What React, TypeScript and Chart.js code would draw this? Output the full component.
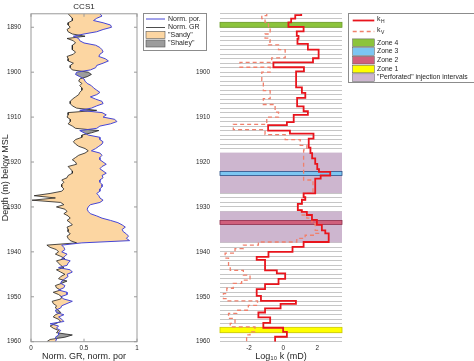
import { useEffect, useRef } from 'react';
import { Chart, registerables } from 'chart.js';
Chart.register(...registerables);

const FONT = '"Liberation Sans", Arial, Helvetica, sans-serif';
const TEXT = '#262626';

// ---------- depth axis ----------
const DEPTH_MIN = 1887;
const DEPTH_MAX = 1960;
const depthTicks = [1890, 1900, 1910, 1920, 1930, 1940, 1950, 1960];
const rightDepthLabels = [1900, 1910, 1920, 1930, 1940, 1950, 1960];

// ---------- left panel: well log (sampled every 0.5 m from 1887 m) ----------
const LOG_START = 1887;
const LOG_STEP = 0.5;
const normGR = [
  0.35, 0.37, 0.39, 0.39, 0.35, 0.35, 0.37, 0.34, 0.35, 0.39,
  0.51, 0.34, 0.40, 0.42, 0.39, 0.39, 0.39, 0.42, 0.40, 0.34,
  0.35, 0.35, 0.40, 0.37, 0.37, 0.39, 0.54, 0.57, 0.53, 0.46,
  0.45, 0.48, 0.46, 0.48, 0.48, 0.46, 0.45, 0.42, 0.39, 0.37,
  0.37, 0.39, 0.43, 0.62, 0.35, 0.35, 0.34, 0.37, 0.37, 0.35,
  0.39, 0.42, 0.64, 0.57, 0.48, 0.48, 0.42, 0.40, 0.42, 0.45,
  0.51, 0.54, 0.51, 0.45, 0.42, 0.39, 0.42, 0.43, 0.35, 0.37,
  0.39, 0.39, 0.35, 0.34, 0.29, 0.31, 0.29, 0.29, 0.31, 0.29,
  0.18, 0.03, 0.23, 0.01, 0.28, 0.31, 0.24, 0.32, 0.34, 0.31,
  0.35, 0.37, 0.34, 0.37, 0.39, 0.34, 0.35, 0.35, 0.37, 0.34,
  0.35, 0.37, 0.43, 0.15, 0.18, 0.24, 0.26, 0.23, 0.28, 0.32,
  0.24, 0.26, 0.28, 0.31, 0.24, 0.28, 0.32, 0.28, 0.26, 0.34,
  0.29, 0.23, 0.24, 0.28, 0.21, 0.26, 0.29, 0.28, 0.20, 0.21,
  0.24, 0.23, 0.26, 0.28, 0.23, 0.21, 0.26, 0.28, 0.23, 0.18,
  0.21, 0.26, 0.24, 0.39, 0.32, 0.18, 0.15,
];
const normPor = [
  0.65, 0.67, 0.62, 0.59, 0.68, 0.75, 0.76, 0.68, 0.62, 0.50,
  0.40, 0.45, 0.46, 0.50, 0.61, 0.65, 0.67, 0.68, 0.65, 0.64,
  0.70, 0.73, 0.68, 0.62, 0.61, 0.56, 0.43, 0.42, 0.46, 0.50,
  0.51, 0.53, 0.57, 0.59, 0.62, 0.65, 0.62, 0.56, 0.61, 0.67,
  0.68, 0.62, 0.57, 0.46, 0.67, 0.71, 0.68, 0.79, 0.81, 0.75,
  0.65, 0.62, 0.46, 0.50, 0.54, 0.65, 0.65, 0.68, 0.67, 0.64,
  0.61, 0.57, 0.65, 0.67, 0.65, 0.65, 0.68, 0.71, 0.67, 0.65,
  0.68, 0.71, 0.67, 0.68, 0.65, 0.65, 0.67, 0.67, 0.65, 0.65,
  0.62, 0.64, 0.65, 0.68, 0.65, 0.56, 0.54, 0.53, 0.54, 0.56,
  0.62, 0.67, 0.75, 0.82, 0.86, 0.89, 0.86, 0.87, 0.90, 0.92,
  0.90, 0.93, 0.48, 0.29, 0.31, 0.32, 0.29, 0.34, 0.32, 0.29,
  0.37, 0.35, 0.34, 0.26, 0.37, 0.39, 0.34, 0.35, 0.32, 0.29,
  0.28, 0.32, 0.31, 0.26, 0.34, 0.34, 0.28, 0.31, 0.39, 0.34,
  0.29, 0.28, 0.23, 0.24, 0.31, 0.26, 0.29, 0.31, 0.18, 0.26,
  0.24, 0.28, 0.26, 0.26, 0.23, 0.24, 0.23,
];
const leftXTicks = [0, 0.5, 1];

// ---------- right panel: permeability layers ----------
const kHTop = [
  1887.0, 1887.3, 1888.1, 1888.9, 1889.9, 1890.9, 1891.9, 1892.6, 1893.7, 1895.0,
  1896.9, 1897.8, 1898.9, 1899.8, 1903.4, 1904.6, 1905.7, 1907.6, 1908.7, 1909.5,
  1911.1, 1911.8, 1913.0, 1913.7, 1914.8, 1916.8, 1918.0, 1919.2, 1920.4, 1921.6,
  1922.2, 1923.0, 1923.7, 1927.0, 1927.8, 1928.4, 1929.3, 1930.7, 1931.1, 1931.8,
  1932.9, 1934.0, 1935.2, 1935.9, 1937.8, 1938.9, 1940.0, 1941.1, 1941.8, 1944.1,
  1944.8, 1946.0, 1947.2, 1948.3, 1949.8, 1950.9, 1951.6, 1952.6, 1953.5, 1954.6,
  1955.8, 1956.9, 1957.8, 1958.9,
];
const kH = [
  1.06, 0.71, 0.47, 0.31, 1.20, 0.80, 0.90, 0.84, 1.45, 2.08,
  1.75, -0.57, 1.22, 0.76, 1.10, 1.30, 0.82, 1.20, 1.45, 0.62,
  0.22, -0.88, 0.40, 1.78, 1.50, 1.60, 1.70, 1.88, 2.00, 2.10,
  2.76, 2.20, 1.88, 1.20, 1.30, 1.10, 0.86, 1.10, 1.39, 1.69,
  1.98, 2.27, 2.47, 2.67, 1.20, 0.55, -0.86, -1.55, -1.06, -0.37,
  0.12, -0.27, -1.06, -1.55, -1.30, 0.75, -0.15, -1.06, -1.45, -0.76,
  -1.16, 0.00, 0.22, -0.47,
];
const kVTop = [
  1887.0, 1887.4, 1888.1, 1888.9, 1890.1, 1891.5, 1892.4, 1893.3, 1893.9, 1895.0,
  1896.8, 1897.8, 1898.9, 1900.0, 1901.9, 1904.1, 1905.9, 1907.2, 1908.9, 1910.0,
  1911.6, 1912.8, 1913.9, 1915.0, 1916.3, 1917.3, 1924.0, 1927.0, 1927.8, 1928.4,
  1929.3, 1930.7, 1931.8, 1932.5, 1933.7, 1935.2, 1935.9, 1936.3, 1937.0, 1937.8,
  1938.5, 1939.3, 1940.3, 1941.4, 1943.0, 1944.1, 1945.2, 1946.3, 1947.0, 1948.1,
  1949.3, 1950.4, 1950.9, 1951.9, 1953.0, 1953.7, 1954.8, 1955.9, 1956.7, 1957.8,
  1958.5,
];
const kV = [
  -0.96, -1.25, -1.06, -0.86, -0.76, -1.06, -0.76, -0.86, -0.27, 0.12,
  -0.67, -2.53, -0.76, -1.25, -1.16, -0.76, -1.16, -0.47, -0.27, -0.96,
  -2.92, -1.06, 0.12, 1.00, 1.39, 1.20, 1.75, 1.20, 1.30, 1.10,
  0.86, 1.05, 1.39, 1.69, 1.88, 2.08, 1.88, 1.29, 0.80, -1.45,
  -2.33, -2.82, -3.40, -3.20, -3.10, -2.33, -1.94, -2.43, -2.92, -3.30,
  -3.50, -3.30, -1.50, -2.04, -2.72, -3.20, -2.82, -3.10, -1.65, -1.94,
  -2.14,
];
const rightXTicks = [-2, 0, 2];
const RIGHT_X_MIN = -3.7;
const RIGHT_X_MAX = 3.45;

const perfTop = [1917.9, 1931.0];
const perfBottom = [1926.9, 1937.9];
const zoneNames = ['Zone 4', 'Zone 3', 'Zone 2', 'Zone 1'];
const zoneTop = [1888.9, 1922.1, 1933.0, 1956.8];
const zoneBottom = [1890.0, 1923.0, 1933.9, 1958.0];
const zoneFill = ['#8cc43c', '#7cc6f2', '#d0607c', '#ffff00'];
const zoneEdge = ['#6e9e2c', '#2c4f86', '#8e2e4c', '#c8c800'];
const PERF_COLOR = '#cdb6cf';

const SANDY = '#fcd6a2';
const SHALEY = '#9c9c9c';
const POR_COLOR = '#4646d6';
const GR_COLOR = '#202020';
const KH_COLOR = '#e8141c';
const KV_COLOR = '#f0806c';

// ---------- helpers ----------
type P = { x: number; y: number };

function buildLog() {
  const por: P[] = [];
  const gr: P[] = [];
  const mx: P[] = [];
  const n = normGR.length;
  for (let i = 0; i < n; i++) {
    const d = LOG_START + i * LOG_STEP;
    por.push({ x: normPor[i], y: d });
    gr.push({ x: normGR[i], y: d });
    mx.push({ x: Math.max(normPor[i], normGR[i]), y: d });
    if (i < n - 1) {
      const a = normPor[i] - normGR[i];
      const b = normPor[i + 1] - normGR[i + 1];
      if (a * b < 0) {
        const t = a / (a - b);
        const xc = normPor[i] + t * (normPor[i + 1] - normPor[i]);
        const yc = d + t * LOG_STEP;
        por.push({ x: xc, y: yc });
        gr.push({ x: xc, y: yc });
        mx.push({ x: xc, y: yc });
      }
    }
  }
  return { por, gr, mx };
}

function stepPoints(tops: number[], vals: number[], bottom: number): P[] {
  const pts: P[] = [];
  for (let i = 0; i < tops.length; i++) {
    const b = i + 1 < tops.length ? tops[i + 1] : bottom;
    pts.push({ x: vals[i], y: tops[i] }, { x: vals[i], y: b });
  }
  return pts;
}

const tickFont = { family: FONT, size: 6.3 };
const titleFont = { family: FONT, size: 9 };

function drawSubK(ctx: CanvasRenderingContext2D, x: number, y: number, sub: string) {
  ctx.fillStyle = TEXT;
  ctx.textAlign = 'left';
  ctx.textBaseline = 'middle';
  ctx.font = `7px ${FONT}`;
  ctx.fillText('k', x, y - 1);
  const w = ctx.measureText('k').width;
  ctx.font = `5px ${FONT}`;
  ctx.fillText(sub, x + w + 0.5, y + 1.5);
}

export default function App() {
  const leftRef = useRef<HTMLCanvasElement>(null);
  const rightRef = useRef<HTMLCanvasElement>(null);

  useEffect(() => {
    const { por, gr, mx } = buildLog();

    const leftPlugin = {
      id: 'leftDecor',
      afterDatasetsDraw(chart: any) {
        const { ctx, chartArea: a, scales } = chart;
        ctx.save();
        ctx.strokeStyle = '#9a9a9a';
        ctx.lineWidth = 1;
        ctx.strokeRect(a.left, a.top, a.right - a.left, a.bottom - a.top);
        ctx.beginPath();
        for (const v of depthTicks) {
          const y = scales.y.getPixelForValue(v);
          ctx.moveTo(a.left, y); ctx.lineTo(a.left + 3, y);
          ctx.moveTo(a.right, y); ctx.lineTo(a.right - 3, y);
        }
        for (const v of leftXTicks) {
          const x = scales.x.getPixelForValue(v);
          ctx.moveTo(x, a.bottom); ctx.lineTo(x, a.bottom - 3);
          ctx.moveTo(x, a.top); ctx.lineTo(x, a.top + 3);
        }
        ctx.stroke();
        ctx.restore();
      },
      afterDraw(chart: any) {
        const ctx = chart.ctx as CanvasRenderingContext2D;
        ctx.save();
        const bx = 143.5, by = 13.5, bw = 63, bh = 37;
        ctx.fillStyle = '#fff';
        ctx.fillRect(bx, by, bw, bh);
        ctx.strokeStyle = '#8c8c8c';
        ctx.lineWidth = 1;
        ctx.strokeRect(bx, by, bw, bh);
        const sx0 = 146, sx1 = 165, tx = 168;
        const rows = [19, 27.5, 35, 43.5];
        ctx.lineWidth = 1;
        ctx.strokeStyle = POR_COLOR;
        ctx.beginPath(); ctx.moveTo(sx0, rows[0]); ctx.lineTo(sx1, rows[0]); ctx.stroke();
        ctx.strokeStyle = GR_COLOR;
        ctx.lineWidth = 0.8;
        ctx.beginPath(); ctx.moveTo(sx0, rows[1]); ctx.lineTo(sx1, rows[1]); ctx.stroke();
        ctx.fillStyle = SANDY; ctx.fillRect(sx0, rows[2] - 3.5, sx1 - sx0, 7);
        ctx.strokeStyle = '#555'; ctx.lineWidth = 0.6; ctx.strokeRect(sx0, rows[2] - 3.5, sx1 - sx0, 7);
        ctx.fillStyle = SHALEY; ctx.fillRect(sx0, rows[3] - 3.5, sx1 - sx0, 7);
        ctx.strokeRect(sx0, rows[3] - 3.5, sx1 - sx0, 7);
        ctx.fillStyle = TEXT;
        ctx.font = `7px ${FONT}`;
        ctx.textAlign = 'left';
        ctx.textBaseline = 'middle';
        const labels = ['Norm. por.', 'Norm. GR', '"Sandy"', '"Shaley"'];
        labels.forEach((t, i) => ctx.fillText(t, tx, rows[i]));
        ctx.restore();
      },
    };

    const left = new Chart(leftRef.current!, {
      type: 'line',
      data: {
        datasets: [
          { data: por, borderColor: POR_COLOR, borderWidth: 1, pointRadius: 0, fill: false, tension: 0 },
          { data: gr, borderColor: GR_COLOR, borderWidth: 0.8, pointRadius: 0, fill: false, tension: 0 },
          {
            data: mx, borderColor: 'rgba(0,0,0,0)', borderWidth: 1, pointRadius: 0, tension: 0,
            backgroundColor: SANDY, fill: { target: 1, above: SANDY, below: SANDY },
          },
          {
            data: mx, borderColor: 'rgba(0,0,0,0)', borderWidth: 1, pointRadius: 0, tension: 0,
            backgroundColor: SHALEY, fill: { target: 0, above: SHALEY, below: SHALEY },
          },
        ],
      } as any,
      options: {
        animation: false,
        responsive: false,
        devicePixelRatio: 1,
        indexAxis: 'y',
        events: [],
        layout: { padding: { left: 0, right: 78, top: 0, bottom: 0 } },
        plugins: {
          legend: { display: false },
          tooltip: { enabled: false },
          title: {
            display: true, text: 'CCS1', fullSize: false, color: TEXT,
            font: { family: FONT, size: 8, weight: 'normal' }, padding: { top: 1.5, bottom: 1.8 },
          },
        },
        scales: {
          x: {
            type: 'linear', position: 'bottom', min: 0, max: 1,
            afterBuildTicks: (s: any) => { s.ticks = leftXTicks.map((v) => ({ value: v })); },
            afterFit: (s: any) => { s.height = 19.3; },
            grid: { display: false, drawTicks: false },
            border: { display: false },
            ticks: { font: tickFont, color: TEXT, padding: 3, maxRotation: 0, callback: (v: any) => String(v) },
            title: { display: true, text: 'Norm. GR, norm. por', font: titleFont, color: TEXT, padding: { top: 0, bottom: -1 } },
          },
          y: {
            type: 'linear', position: 'left', min: DEPTH_MIN, max: DEPTH_MAX, reverse: true,
            afterBuildTicks: (s: any) => { s.ticks = depthTicks.map((v) => ({ value: v })); },
            afterFit: (s: any) => { s.width = 31; },
            grid: { display: false, drawTicks: false },
            border: { display: false },
            ticks: { font: tickFont, color: TEXT, padding: 10, callback: (v: any) => String(v) },
            title: { display: true, text: 'Depth (m) below MSL', font: titleFont, color: TEXT, padding: { top: 0, bottom: 0 } },
          },
        },
      } as any,
      plugins: [leftPlugin],
    });

    const OFF = 180;
    const rightPlugin = {
      id: 'rightDecor',
      beforeDatasetsDraw(chart: any) {
        const { ctx, chartArea: a, scales } = chart;
        ctx.save();
        ctx.fillStyle = PERF_COLOR;
        for (let i = 0; i < perfTop.length; i++) {
          const y0 = scales.y.getPixelForValue(perfTop[i]);
          const y1 = scales.y.getPixelForValue(perfBottom[i]);
          ctx.fillRect(a.left, y0, a.right - a.left, y1 - y0);
        }
        for (let i = 0; i < zoneTop.length; i++) {
          const y0 = scales.y.getPixelForValue(zoneTop[i]);
          const y1 = scales.y.getPixelForValue(zoneBottom[i]);
          ctx.fillStyle = zoneFill[i];
          ctx.fillRect(a.left, y0, a.right - a.left, y1 - y0);
          ctx.strokeStyle = zoneEdge[i];
          ctx.lineWidth = 0.8;
          ctx.strokeRect(a.left, y0, a.right - a.left, y1 - y0);
        }
        ctx.restore();
      },
      afterDraw(chart: any) {
        const ctx = chart.ctx as CanvasRenderingContext2D;
        ctx.save();
        const bx = 348.5 - OFF, by = 13.5, bw = 140, bh = 69;
        ctx.fillStyle = '#fff';
        ctx.fillRect(bx, by, bw, bh);
        ctx.strokeStyle = '#8c8c8c';
        ctx.lineWidth = 1;
        ctx.strokeRect(bx, by, bw, bh);
        const sx0 = 352.7 - OFF, sx1 = 374.3 - OFF, tx = 377 - OFF;
        ctx.strokeStyle = KH_COLOR; ctx.lineWidth = 1.8;
        ctx.beginPath(); ctx.moveTo(sx0, 20.5); ctx.lineTo(sx1, 20.5); ctx.stroke();
        drawSubK(ctx, tx, 20.5, 'H');
        ctx.strokeStyle = KV_COLOR; ctx.lineWidth = 1.4; ctx.setLineDash([4, 3]);
        ctx.beginPath(); ctx.moveTo(sx0, 31.5); ctx.lineTo(sx1, 31.5); ctx.stroke();
        ctx.setLineDash([]);
        drawSubK(ctx, tx, 31.5, 'V');
        const rows = [42.7, 51.5, 60.2, 69, 77.6];
        const names = [...zoneNames, '"Perforated" injection intervals'];
        const fills = [...zoneFill, PERF_COLOR];
        ctx.font = `6.8px ${FONT}`;
        ctx.textAlign = 'left';
        ctx.textBaseline = 'middle';
        rows.forEach((y, i) => {
          ctx.fillStyle = fills[i];
          ctx.fillRect(sx0, y - 3.8, sx1 - sx0, 7.6);
          ctx.strokeStyle = '#555'; ctx.lineWidth = 0.5;
          ctx.strokeRect(sx0, y - 3.8, sx1 - sx0, 7.6);
          ctx.fillStyle = TEXT;
          ctx.fillText(names[i], tx, y);
        });
        ctx.restore();
      },
    };

    const gridTicks: number[] = [];
    for (let d = DEPTH_MIN; d <= DEPTH_MAX; d++) gridTicks.push(d);

    const right = new Chart(rightRef.current!, {
      type: 'line',
      data: {
        datasets: [
          { data: stepPoints(kHTop, kH, DEPTH_MAX), borderColor: KH_COLOR, borderWidth: 1.8, pointRadius: 0, fill: false, tension: 0 },
          { data: stepPoints(kVTop, kV, DEPTH_MAX), borderColor: KV_COLOR, borderWidth: 1.3, borderDash: [4, 3], pointRadius: 0, fill: false, tension: 0 },
        ],
      } as any,
      options: {
        animation: false,
        responsive: false,
        devicePixelRatio: 1,
        indexAxis: 'y',
        events: [],
        layout: { padding: { left: 0, right: 132, top: 13.3, bottom: 0 } },
        plugins: { legend: { display: false }, tooltip: { enabled: false } },
        scales: {
          x: {
            type: 'linear', position: 'bottom', min: RIGHT_X_MIN, max: RIGHT_X_MAX,
            afterBuildTicks: (s: any) => { s.ticks = rightXTicks.map((v) => ({ value: v })); },
            afterFit: (s: any) => { s.height = 19.3; },
            grid: { display: false, drawTicks: false },
            border: { display: false },
            ticks: { font: tickFont, color: TEXT, padding: 3, maxRotation: 0, callback: (v: any) => String(v) },
            title: { display: true, text: 'Log₁₀ k (mD)', font: titleFont, color: TEXT, padding: { top: 0, bottom: -1 } },
          },
          y: {
            type: 'linear', position: 'left', min: DEPTH_MIN, max: DEPTH_MAX, reverse: true,
            afterBuildTicks: (s: any) => { s.ticks = gridTicks.map((v) => ({ value: v })); },
            afterFit: (s: any) => { s.width = 40; },
            grid: { display: true, drawTicks: false, color: '#c6c6c6', lineWidth: 1 },
            border: { display: false },
            ticks: {
              font: tickFont, color: TEXT, padding: 10, autoSkip: false,
              callback: (v: any) => (rightDepthLabels.includes(v) ? String(v) : ''),
            },
          },
        },
      } as any,
      plugins: [rightPlugin],
    });

    return () => { left.destroy(); right.destroy(); };
  }, []);

  return (
    <div style={{ position: 'fixed', left: 0, top: 0, width: 474, height: 361, background: '#fff', overflow: 'hidden' }}>
      <canvas ref={rightRef} width={294} height={361} style={{ position: 'absolute', left: 180, top: 0, width: 294, height: 361 }} />
      <canvas ref={leftRef} width={215} height={361} style={{ position: 'absolute', left: 0, top: 0, width: 215, height: 361 }} />
    </div>
  );
}
